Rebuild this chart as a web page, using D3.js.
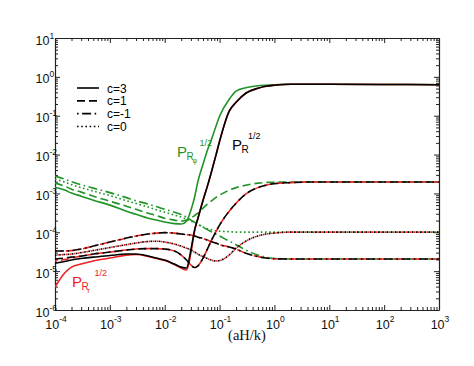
<!DOCTYPE html>
<html>
<head>
<meta charset="utf-8">
<script src="https://cdn.jsdelivr.net/npm/d3@7"></script>
<style>
  body { margin: 0; background: #fff; }
  .tick line, .domain { stroke: #222; }
  .ticklab { font-family: "Liberation Sans", Arial, Helvetica, sans-serif; fill: #111; }
  .lab { font-family: "Liberation Sans", Arial, Helvetica, sans-serif; }
</style>
</head>
<body>
<div id="chart"></div>
<script>
const width = 474;
const height = 366;
const margin = {top: 38, right: 35, bottom: 56, left: 55};

// aH/k sample points shared by all curves
const aH = [1e-4, 1.5e-4, 2e-4, 3e-4, 5e-4, 1e-3, 2e-3, 3e-3, 5e-3, 7e-3,
    1e-2, 1.5e-2, 2e-2, 2.5e-2, 3e-2, 3.5e-2, 4e-2, 5e-2, 6e-2, 7e-2,
    8.5e-2, 0.1, 0.15, 0.2, 0.3, 0.5, 0.7, 1, 2, 5, 10, 100, 1000];

// P_R^{1/2} (black)
const pR_c3 = [1.61e-5, 1.77e-5, 1.93e-5, 2.11e-5, 2.30e-5, 2.52e-5, 2.75e-5, 2.75e-5, 2.44e-5, 2.17e-5,
    1.93e-5, 1.52e-5, 1.27e-5, 1.20e-5, 3.5e-5, 1.14e-4, 2.2e-4, 6.7e-4, 1.54e-3, 3.3e-3,
    9.1e-3, 2.2e-2, 0.131, 0.222, 0.379, 0.509, 0.573, 0.608, 0.645, 0.645, 0.645, 0.638, 0.627];
const pR_c1 = [2.05e-5, 2.17e-5, 2.30e-5, 2.44e-5, 2.75e-5, 3.1e-5, 3.5e-5, 3.7e-5, 3.8e-5, 3.8e-5,
    3.7e-5, 3.3e-5, 2.6e-5, 1.93e-5, 1.44e-5, 1.24e-5, 1.35e-5, 2.17e-5, 3.7e-5, 5.9e-5,
    1.01e-4, 1.53e-4, 3.5e-4, 5.6e-4, 9.6e-4, 1.41e-3, 1.63e-3, 1.79e-3, 1.90e-3, 1.97e-3, 1.97e-3, 1.97e-3, 1.97e-3];
const pR_cm1 = [3.29e-5, 3.29e-5, 3.39e-5, 3.70e-5, 4.42e-5, 5.6e-5, 7.1e-5, 8.0e-5, 9.0e-5, 9.5e-5,
    9.8e-5, 9.5e-5, 9.0e-5, 8.7e-5, 8.5e-5, 8.0e-5, 7.5e-5, 6.9e-5, 6.3e-5, 5.8e-5,
    5.3e-5, 4.8e-5, 4.2e-5, 3.7e-5, 2.9e-5, 2.37e-5, 2.17e-5, 2.09e-5, 2.05e-5, 2.05e-5, 2.05e-5, 2.05e-5, 2.05e-5];
const pR_c0 = [2.59e-5, 2.67e-5, 2.75e-5, 3.0e-5, 3.4e-5, 4.05e-5, 4.8e-5, 5.3e-5, 5.8e-5, 5.9e-5,
    5.6e-5, 5.0e-5, 4.4e-5, 3.9e-5, 3.5e-5, 3.1e-5, 2.75e-5, 2.37e-5, 2.11e-5, 1.93e-5,
    1.82e-5, 1.87e-5, 2.6e-5, 3.9e-5, 5.9e-5, 8.0e-5, 9.0e-5, 9.5e-5, 1.01e-4, 1.01e-4, 1.01e-4, 1.01e-4, 1.01e-4];

// P_Rphi^{1/2} (green)
const pRphi_c3 = [1.45e-3, 1.22e-3, 1.02e-3, 8.5e-4, 6.7e-4, 5.0e-4, 3.5e-4, 2.9e-4, 2.3e-4, 2.06e-4,
    1.83e-4, 1.67e-4, 1.63e-4, 1.94e-4, 3.7e-4, 8.0e-4, 1.95e-3, 5.7e-3, 1.3e-2, 2.3e-2,
    5.1e-2, 9.7e-2, 0.265, 0.43, 0.525, 0.59, 0.61, 0.627, 0.645, 0.645, 0.645, 0.638, 0.627];
const pRphi_c1 = [1.84e-3, 1.54e-3, 1.29e-3, 1.08e-3, 8.5e-4, 6.3e-4, 4.7e-4, 3.9e-4, 3.1e-4, 2.7e-4,
    2.3e-4, 2.06e-4, 1.94e-4, 2.06e-4, 2.3e-4, 2.7e-4, 3.1e-4, 4.2e-4, 5.3e-4, 6.3e-4,
    7.8e-4, 9.0e-4, 1.22e-3, 1.41e-3, 1.63e-3, 1.84e-3, 1.92e-3, 1.95e-3, 1.97e-3, 1.97e-3, 1.97e-3, 1.97e-3, 1.97e-3];
const pRphi_cm1 = [2.79e-3, 2.33e-3, 2.01e-3, 1.68e-3, 1.37e-3, 1.05e-3, 7.8e-4, 6.5e-4, 5.3e-4, 4.6e-4,
    3.9e-4, 3.3e-4, 2.85e-4, 2.46e-4, 2.06e-4, 1.83e-4, 1.63e-4, 1.36e-4, 1.17e-4, 1.04e-4,
    9.0e-5, 8.0e-5, 5.9e-5, 4.8e-5, 3.5e-5, 2.6e-5, 2.3e-5, 2.11e-5, 2.05e-5, 2.05e-5, 2.05e-5, 2.05e-5, 2.05e-5];
const pRphi_c0 = [2.33e-3, 1.95e-3, 1.68e-3, 1.41e-3, 1.15e-3, 8.8e-4, 6.5e-4, 5.5e-4, 4.45e-4, 3.8e-4,
    3.3e-4, 2.77e-4, 2.46e-4, 2.18e-4, 1.94e-4, 1.72e-4, 1.58e-4, 1.36e-4, 1.24e-4, 1.17e-4,
    1.10e-4, 1.07e-4, 1.04e-4, 1.01e-4, 1.01e-4, 1.01e-4, 1.01e-4, 1.01e-4, 1.01e-4, 1.01e-4, 1.01e-4, 1.01e-4, 1.01e-4];

// P_Rr^{1/2} (red); where it sits under the black curve the same values are used
const pRr_c3 = [3.9e-6, 9.0e-6, 1.27e-5, 1.52e-5, 1.82e-5, 2.17e-5, 2.59e-5, 2.67e-5, 2.37e-5, 2.11e-5,
    1.87e-5, 1.48e-5, 1.20e-5, 1.07e-5, 2.9e-5, 1.07e-4, 2.2e-4, 6.7e-4, 1.54e-3, 3.3e-3,
    9.1e-3, 2.2e-2, 0.131, 0.222, 0.379, 0.509, 0.573, 0.608, 0.645, 0.645, 0.645, 0.638, 0.627];
const pRr_c1 = [1.82e-5, 1.99e-5, 2.17e-5].concat(pR_c1.slice(3));
const pRr_cm1 = pR_cm1;
const pRr_c0 = pR_c0;

const xTicks = [1e-4, 1e-3, 1e-2, 1e-1, 1e0, 1e1, 1e2, 1e3];
const yTicks = [1e-6, 1e-5, 1e-4, 1e-3, 1e-2, 1e-1, 1e0, 1e1];
const legendLabels = ['c=3', 'c=1', 'c=-1', 'c=0'];

const green = '#1f9426';
const red = '#ee2222';
const dashes = {
    'c=3': null,
    'c=1': '8,4',
    'c=-1': '9,3.5,1.6,3.5',
    'c=0': '1.6,2.6'
};

const series = [
    {v: pRphi_c3, c: green, s: 'c=3'},
    {v: pRphi_c1, c: green, s: 'c=1'},
    {v: pRphi_cm1, c: green, s: 'c=-1'},
    {v: pRphi_c0, c: green, s: 'c=0'},
    {v: pRr_c3, c: red, s: 'c=3'},
    {v: pRr_c1, c: red, s: 'c=1', off: 6},
    {v: pRr_cm1, c: red, s: 'c=-1', off: 7},
    {v: pRr_c0, c: red, s: 'c=0', off: 2},
    {v: pR_c3, c: '#000', s: 'c=3'},
    {v: pR_c1, c: '#000', s: 'c=1'},
    {v: pR_cm1, c: '#000', s: 'c=-1'},
    {v: pR_c0, c: '#000', s: 'c=0'}
];

const x0 = margin.left, x1 = width - margin.right;
const y0 = height - margin.bottom, y1 = margin.top;

const xScale = d3.scaleLog().domain([1e-4, 1e3]).range([x0, x1]);
const yScale = d3.scaleLog().domain([1e-6, 1e1]).range([y0, y1]);

const svg = d3.select('#chart')
    .append('svg')
    .attr('width', width)
    .attr('height', height)
    .style('background', '#fff');

svg.append('clipPath')
    .attr('id', 'clip')
    .append('rect')
    .attr('x', x0).attr('y', y1)
    .attr('width', x1 - x0).attr('height', y0 - y1);

function minors(ticks) {
    let m = [];
    ticks.slice(0, -1).forEach(function (t) {
        for (let k = 2; k < 10; k++) m.push(t * k);
    });
    return m;
}

// frame + inward ticks on all four sides
const axes = [
    {a: d3.axisBottom, s: xScale, t: xTicks, tr: 'translate(0,' + y0 + ')'},
    {a: d3.axisTop, s: xScale, t: xTicks, tr: 'translate(0,' + y1 + ')'},
    {a: d3.axisLeft, s: yScale, t: yTicks, tr: 'translate(' + x0 + ',0)'},
    {a: d3.axisRight, s: yScale, t: yTicks, tr: 'translate(' + x1 + ',0)'}
];
axes.forEach(function (ax) {
    svg.append('g')
        .attr('transform', ax.tr)
        .call(ax.a(ax.s).tickValues(minors(ax.t)).tickSizeInner(-3).tickSizeOuter(0).tickFormat(''))
        .call(g => g.select('.domain').remove());
    svg.append('g')
        .attr('transform', ax.tr)
        .call(ax.a(ax.s).tickValues(ax.t).tickSizeInner(-5).tickSizeOuter(0).tickFormat(''));
});
svg.selectAll('.domain').attr('stroke-width', 1.2);

// tick labels 10^n
svg.selectAll('.xlab')
    .data(xTicks)
    .enter()
    .append('text')
    .attr('class', 'ticklab')
    .attr('x', d => xScale(d) + 1)
    .attr('y', y0 + 18.5)
    .attr('text-anchor', 'middle')
    .attr('font-size', 12.5)
    .each(function (d) {
        const t = d3.select(this);
        t.append('tspan').text('10');
        t.append('tspan').attr('font-size', 8.5).attr('dy', -6.5).text(Math.round(Math.log10(d)));
    });

svg.selectAll('.ylab')
    .data(yTicks)
    .enter()
    .append('text')
    .attr('class', 'ticklab')
    .attr('x', x0 - 5.5)
    .attr('y', d => yScale(d) + 6.5)
    .attr('text-anchor', 'end')
    .attr('font-size', 12.5)
    .text('10');
svg.selectAll('.yexp')
    .data(yTicks)
    .enter()
    .append('text')
    .attr('class', 'ticklab')
    .attr('x', x0 - 5.5)
    .attr('y', d => yScale(d) + 0.5)
    .attr('font-size', 8.5)
    .text(d => Math.round(Math.log10(d)));

svg.append('text')
    .attr('x', (x0 + x1) / 2 + 0)
    .attr('y', 340)
    .attr('text-anchor', 'middle')
    .attr('font-family', '"Liberation Serif", "Times New Roman", serif')
    .attr('font-size', 14.5)
    .attr('fill', '#111')
    .text('(aH/k)');

// curves
const line = d3.line()
    .x(d => xScale(d[0]))
    .y(d => yScale(d[1]))
    .curve(d3.curveMonotoneX);

svg.append('g')
    .attr('clip-path', 'url(#clip)')
    .selectAll('path')
    .data(series)
    .enter()
    .append('path')
    .attr('d', d => line(aH.map((a, i) => [a, d.v[i]])))
    .attr('fill', 'none')
    .attr('stroke', d => d.c)
    .attr('stroke-width', 1.6)
    .attr('stroke-dasharray', d => dashes[d.s])
    .attr('stroke-dashoffset', d => d.off || 0);

// legend
const legY = d3.scalePoint().domain(legendLabels).range([88, 126.5]);
const leg = svg.selectAll('.leg')
    .data(legendLabels)
    .enter()
    .append('g');
leg.append('line')
    .attr('x1', 77).attr('x2', 99)
    .attr('y1', d => legY(d)).attr('y2', d => legY(d))
    .attr('stroke', '#000')
    .attr('stroke-width', 1.6)
    .attr('stroke-dasharray', d => d === 'c=-1' ? '1.6,3.5,9,3.5' : dashes[d]);
leg.append('text')
    .attr('class', 'lab')
    .attr('x', 107)
    .attr('y', d => legY(d) + 4.5)
    .attr('font-size', 12)
    .text(d => d);

// curve labels
function label(px, py, col, sub, subsub) {
    svg.append('text').attr('class', 'lab').attr('x', px).attr('y', py)
        .attr('font-size', 15).attr('fill', col).text('P');
    svg.append('text').attr('class', 'lab').attr('x', px + 9.5).attr('y', py + 3)
        .attr('font-size', 10).attr('fill', col).text(sub);
    if (subsub) {
        svg.append('text').attr('class', 'lab').attr('x', px + 15.5).attr('y', py + 6)
            .attr('font-size', 7).attr('fill', col).text(subsub);
    }
    svg.append('text').attr('class', 'lab').attr('x', px + (subsub ? 22.5 : 16)).attr('y', py - 11)
        .attr('font-size', 9).attr('fill', col).text('1/2');
}
label(232, 150, '#000', 'R', null);
label(177, 157, green, 'R', 'φ');
label(72, 287, red, 'R', 'r');
</script>
</body>
</html>
